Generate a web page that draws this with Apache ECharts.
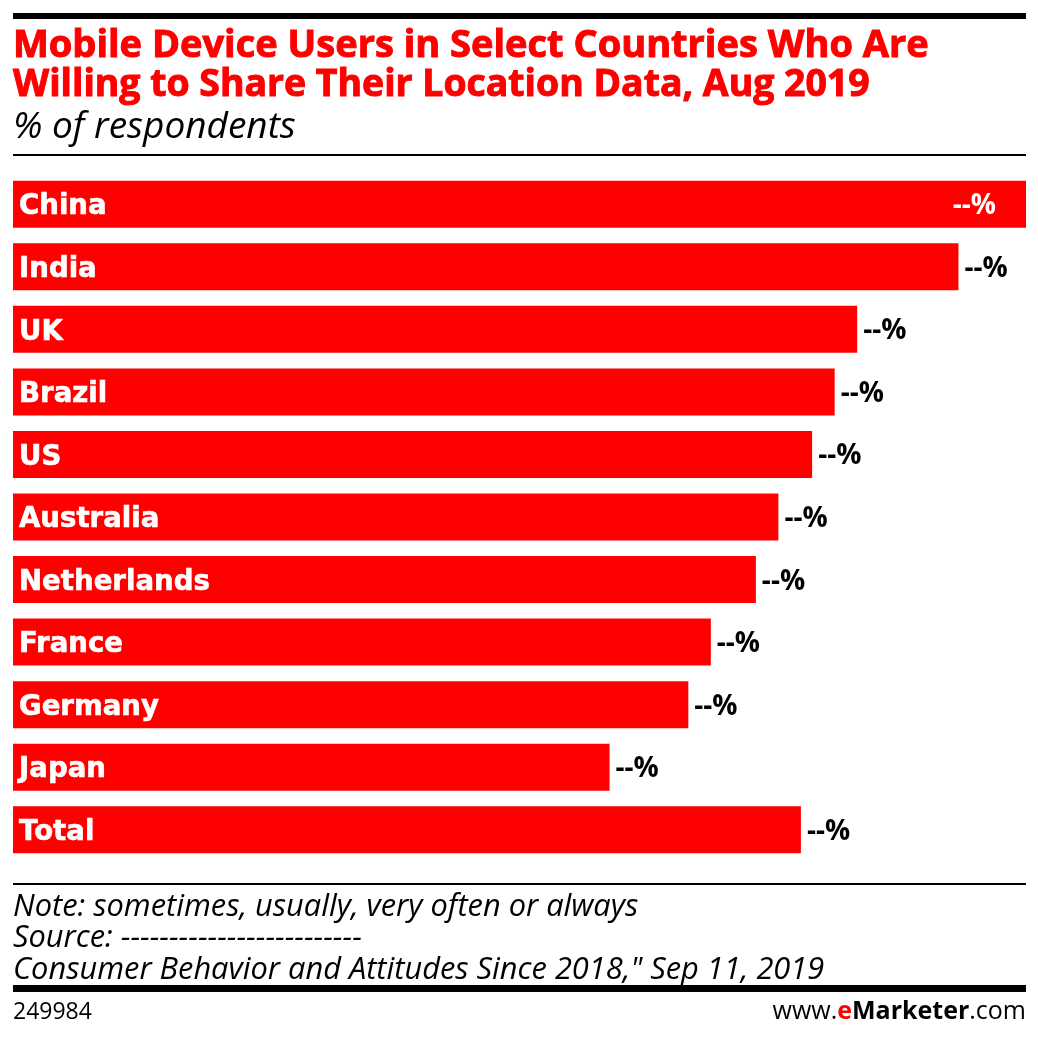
<!DOCTYPE html>
<html><head><meta charset="utf-8">
<style>html,body{margin:0;padding:0;background:#fff}#c{width:1038px;height:1038px}</style>
<script src="https://cdn.jsdelivr.net/npm/echarts@6/dist/echarts.min.js"></script></head>
<body><div id="c"></div>
<script>
const categories=["China","India","UK","Brazil","US","Australia","Netherlands","France","Germany","Japan","Total"];
const values=[45,42,37.5,36.5,35.5,34,33,31,30,26.5,35];
const valueLabel="--%";
const titleLines=["Mobile Device Users in Select Countries Who Are","Willing to Share Their Location Data, Aug 2019"];
const subtitle="% of respondents";
const noteLines=["Note: sometimes, usually, very often or always","Source: -------------------------","Consumer Behavior and Attitudes Since 2018,\" Sep 11, 2019"];
const chartId="249984";
const font="'Open Sans','Noto Sans',sans-serif";
const heavy="'DejaVu Sans',sans-serif";
const X0=13,X1=1026;
const rule=(y,h)=>({type:'rect',shape:{x:X0,y:y,width:X1-X0,height:h},style:{fill:'#000'},silent:true});
const txt=(x,y,t,st)=>({type:'text',x,y,style:Object.assign({text:t,fontFamily:font,fill:'#000',textVerticalAlign:'middle'},st)});
const chart=echarts.init(document.getElementById('c'));
const valueLabelStyle={show:true,position:'right',distance:6,offset:[0,2],formatter:()=>valueLabel,color:'#000',fontFamily:font,fontWeight:'bold',fontSize:28};
const titleStyle={fontWeight:'bold',fontSize:38,fill:'#ff0000',stroke:'#ff0000',lineWidth:1};
const noteStyle={fontStyle:'italic',fontSize:30.8};
chart.setOption({
 animation:false,
 grid:{left:X0,right:1038-X1,top:173,bottom:1038-861},
 xAxis:{type:'value',min:0,max:45,show:false},
 yAxis:{type:'category',data:categories,inverse:true,z:10,axisLine:{show:false},axisTick:{show:false},
  axisLabel:{inside:true,color:'#fff',fontFamily:heavy,fontWeight:'bold',fontSize:27.6,margin:6,verticalAlign:'top',lineHeight:6,textBorderColor:'#fff',textBorderWidth:0.6}},
 series:[{type:'bar',data:values.map((v,i)=>i===0?{value:v,label:{position:'insideRight',distance:30,color:'#fff'}}:v),barWidth:47,itemStyle:{color:'#ff0000'},z:2,
  label:valueLabelStyle}],
 graphic:[
  rule(13,6),rule(154,2),rule(883,2),rule(985,7),
  txt(13,46,titleLines[0],titleStyle),
  txt(13,85,titleLines[1],Object.assign({},titleStyle,{fontSize:37.4})),
  txt(13,127.5,subtitle,{fontStyle:'italic',fontSize:37}),
  txt(13,907,noteLines[0],noteStyle),
  txt(13,938,noteLines[1],noteStyle),
  txt(13,970,noteLines[2],noteStyle),
  txt(13,1012,chartId,{fontSize:23}),
  {type:'text',x:1026,y:1012,style:{rich:{a:{fontFamily:font,fontSize:25,fill:'#000'},b:{fontFamily:font,fontSize:25,fontWeight:'bold',fill:'#ff0000'},c:{fontFamily:font,fontSize:25,fontWeight:'bold',fill:'#000'}},text:'{a|www.}{b|e}{c|Marketer}{a|.com}',textAlign:'right',textVerticalAlign:'middle'}}
 ]
});
</script></body></html>
